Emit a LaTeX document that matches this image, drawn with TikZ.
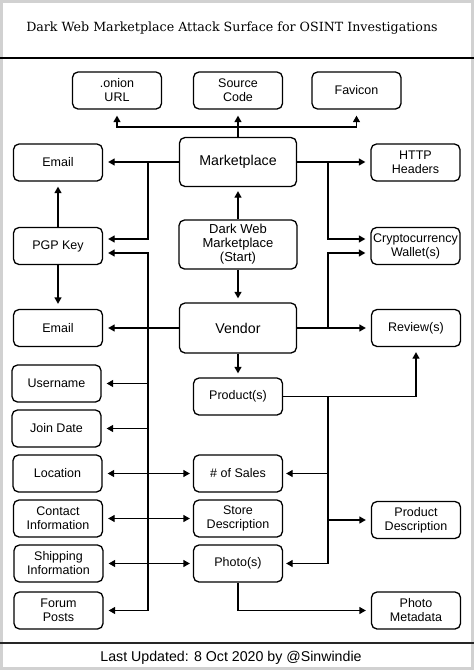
\documentclass[tikz,border=0pt]{standalone}
\usepackage{fontspec}
\setmainfont{Liberation Sans}
\newfontfamily\titlefont{DejaVu Serif}
\usetikzlibrary{arrows.meta,calc}
\begin{document}
\begin{tikzpicture}[x=1pt,y=-1pt,
  box/.style={draw, line width=1.3pt, rounded corners=5.5pt, align=center,
    font=\fontsize{12.5}{14}\selectfont, inner sep=0pt,
    minimum width=89pt, minimum height=37pt},
  big/.style={box, font=\fontsize{14.2}{16}\selectfont, minimum width=117pt, minimum height=49pt},
  arr/.style={line width=1.3pt, -{Triangle[length=6.5pt,width=7pt]}},
  darr/.style={line width=1.3pt, {Triangle[length=6.5pt,width=7pt]}-{Triangle[length=6.5pt,width=7pt]}}]
\useasboundingbox (0,0) rectangle (474,670);
\fill[white] (0,0) rectangle (474,670);
\draw[black!18, line width=3pt] (1.5,1.5) rectangle (472.5,668.5);
\draw[line width=1.6pt] (0,58) -- (474,58);
\draw[line width=1.4pt, black!85] (0,643) -- (474,643);
\node (title) at (232,28) {\titlefont\fontsize{12.65}{14}\selectfont Dark Web Marketplace Attack Surface for OSINT Investigations};
\node (footer) at (231,658) {\fontsize{14.2}{15}\selectfont Last Updated: 8 Oct 2020 by @Sinwindie};

\node[box] (onion) at (117,90.5) {.onion\\URL};
\node[box] (source) at (238,90.5) {Source\\Code};
\node[box] (favicon) at (356.5,90.5) {Favicon};
\node[big] (mkt) at (238,162) {Marketplace};
\node[box] (email1) at (58,162.5) {Email};
\node[box] (http) at (415.5,162.5) {HTTP\\Headers};
\node[box] (pgp) at (58,246) {PGP Key};
\node[box, font=\fontsize{13}{14}\selectfont, minimum width=118pt, minimum height=49pt] (start) at (238,244.5) {Dark Web\\Marketplace\\(Start)};
\node[box] (crypto) at (415.5,246) {Cryptocurrency\\Wallet(s)};
\node[box] (email2) at (58,328) {Email};
\node[big, minimum height=50pt] (vendor) at (238,328) {Vendor};
\node[box] (reviews) at (416,328) {Review(s)};
\node[box] (username) at (56.5,383.5) {Username};
\node[box] (products) at (238,396.5) {Product(s)};
\node[box] (joindate) at (56.5,428.5) {Join Date};
\node[box] (location) at (57.5,473.5) {Location};
\node[box] (sales) at (238,473.5) {\# of Sales};
\node[box] (contact) at (58,518.5) {Contact\\Information};
\node[box] (store) at (238,518.5) {Store\\Description};
\node[box] (proddesc) at (416,520) {Product\\Description};
\node[box] (shipping) at (58.5,563.5) {Shipping\\Information};
\node[box] (photos) at (238,563.5) {Photo(s)};
\node[box] (forum) at (58.5,610.5) {Forum\\Posts};
\node[box] (photometa) at (416,610.5) {Photo\\Metadata};

% marketplace top
\coordinate (tj) at (238,127);
\draw[arr, shorten >=6pt] (mkt.north) -- (source.south);
\draw[arr, shorten >=6pt] (tj) -| (onion.south);
\draw[arr, shorten >=6pt] (tj) -| (favicon.south);
% marketplace sides
\coordinate (lj) at (148,162);
\coordinate (rj) at (328,162);
\draw[arr, shorten >=5pt] (mkt.west) -- (mkt.west -| email1.east);
\draw[arr, shorten >=5pt] (lj) |- ($(pgp.east)+(0,-7)$);
\draw[arr, shorten >=5pt] (mkt.east) -- (mkt.east -| http.west);
\draw[arr, shorten >=5pt] (rj) |- ($(crypto.west)+(0,-7)$);
% start
\draw[arr, shorten >=4pt] (start.north) -- (mkt.south);
\draw[arr, shorten >=4pt] (start.south) -- (vendor.north);
% pgp
\draw[arr, shorten >=5pt] (pgp.north) -- (email1.south);
\draw[arr, shorten >=5pt] (pgp.south) -- (email2.north);
% vendor left
\coordinate (vl) at (148,328);
\draw[arr, shorten >=5pt] (vendor.west) -- (email2.east);
\draw[arr, shorten >=5pt] (vl) |- ($(pgp.east)+(0,7)$);
\draw[arr, shorten >=5pt] (vl) |- (forum.east);
\draw[arr, shorten >=5pt] (vl |- username.east) -- (username.east);
\draw[arr, shorten >=5pt] (vl |- joindate.east) -- (joindate.east);
\draw[darr, shorten <=5pt, shorten >=3pt] (location.east) -- (sales.west);
\draw[darr, shorten <=5pt, shorten >=3pt] (contact.east) -- (store.west);
\draw[darr, shorten <=5pt, shorten >=3pt] (shipping.east) -- (photos.west);
% vendor right
\coordinate (vr) at (328,328);
\draw[arr, shorten >=5pt] (vendor.east) -- (reviews.west);
\draw[arr, shorten >=5pt] (vr) |- ($(crypto.west)+(0,7)$);
\draw[arr, shorten >=4pt] (vendor.south) -- (products.north);
% products
\coordinate (pr) at (328,396.5);
\draw[arr, shorten >=5pt] (products.east) -| (reviews.south);
\draw[arr, shorten >=3pt] (pr) |- (sales.east);
\draw[arr, shorten >=3pt] (pr) |- (photos.east);
\draw[arr, shorten >=5pt] (pr |- proddesc.west) -- (proddesc.west);
\draw[arr, shorten >=5pt] (photos.south) |- (photometa.west);
\end{tikzpicture}
\end{document}
